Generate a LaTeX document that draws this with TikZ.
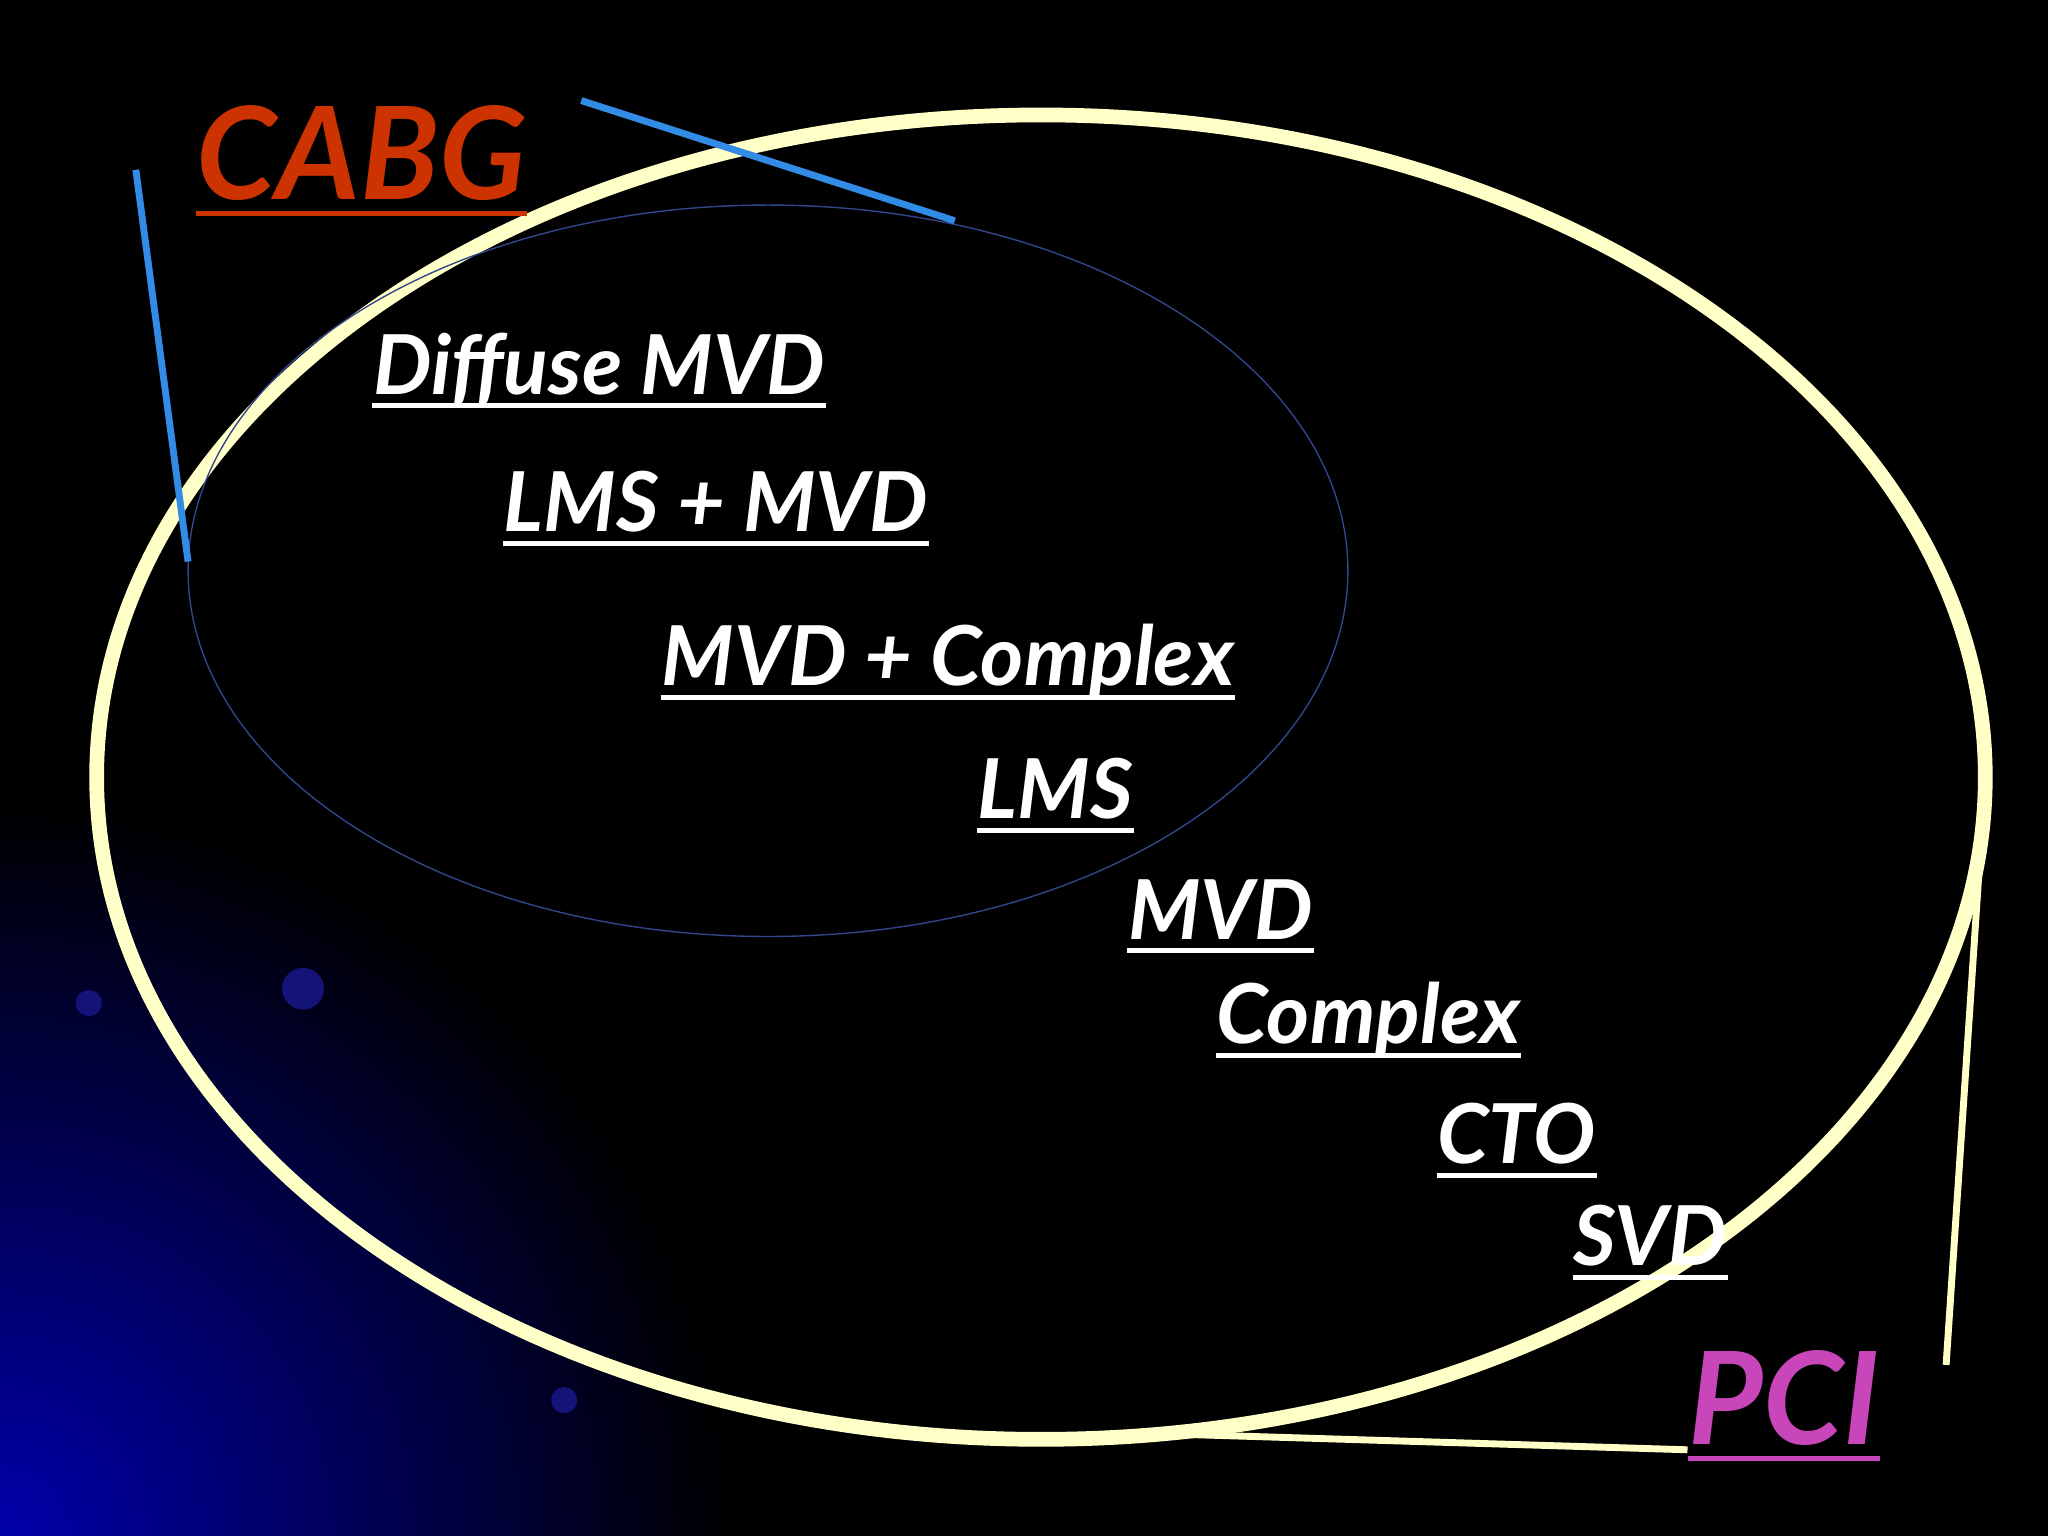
\documentclass[tikz,border=0pt]{standalone}
\usepackage{fontspec}
\setmainfont{Lato}
\definecolor{cream}{RGB}{255,255,200}
\definecolor{lblue}{RGB}{50,140,230}
\definecolor{cabg}{RGB}{204,51,0}
\definecolor{pci}{RGB}{200,70,185}
\definecolor{dblue}{RGB}{0,0,170}
\definecolor{arcblue}{RGB}{20,20,120}
\definecolor{ringblue}{RGB}{50,70,140}
\begin{document}
\begin{tikzpicture}[x=0.01cm,y=-0.01cm,
  lbl/.style={anchor=base west,text=white,font=\fontsize{18}{22}\selectfont\bfseries\itshape,inner sep=0pt},
  big/.style={anchor=base west,font=\fontsize{28}{34}\selectfont\bfseries\itshape,inner sep=0pt},
  ul/.style={line width=1.1pt}]
\fill[black] (0,0) rectangle (1568,1176);
\useasboundingbox (0,0) rectangle (1568,1176);
\begin{scope}
\clip (0,0) rectangle (1568,1176);
\shade[inner color=dblue, outer color=black] (0,1176) circle (560);
\foreach \r in {380,460,540}{\draw[arcblue,line width=0.4pt] (-120,1176) ++(60:\r) arc (60:10:\r);}
\end{scope}
\fill[arcblue] (232,757) circle (16);
\fill[arcblue] (68,768) circle (10);
\fill[arcblue] (432,1072) circle (10);
\draw[cream,line width=3.2pt] (797,595) ellipse (723 and 507);
\draw[ringblue,line width=0.3pt] (588,437) ellipse (444 and 280);
\draw[lblue,line width=1.5pt] (445,77) coordinate (b1) -- (731,169) coordinate (b2);
\draw[lblue,line width=1.5pt] (104,130) coordinate (b3) -- (144,430) coordinate (b4);
\draw[cream,line width=1.5pt] (1516,655) coordinate (c1) -- (1490,1045) coordinate (c2);
\draw[cream,line width=1.5pt] (900,1098) coordinate (c3) -- (1292,1110) coordinate (c4);
\node[big,text=cabg] (cabg) at (150,153) {CABG};
\node[big,text=pci] (pci) at (1292,1106) {PCI};
\draw[cabg,ul] ([yshift=-3pt]cabg.base west) -- ([yshift=-3pt]cabg.base east);
\draw[pci,ul] ([yshift=-3pt]pci.base west) -- ([yshift=-3pt]pci.base east);
\foreach \n/\x/\y/\t in {a/285/302/Diffuse MVD,b/385/407/LMS + MVD,c/506/525/MVD + Complex,d/748/627/LMS,e/863/719/MVD,f/931/799/Complex,g/1100/891/CTO,h/1204/969/SVD}{
  \node[lbl] (\n) at (\x,\y) {\t};
  \draw[white,ul] ([yshift=-2.5pt]\n.base west) -- ([yshift=-2.5pt]\n.base east);
}
\end{tikzpicture}
\end{document}
